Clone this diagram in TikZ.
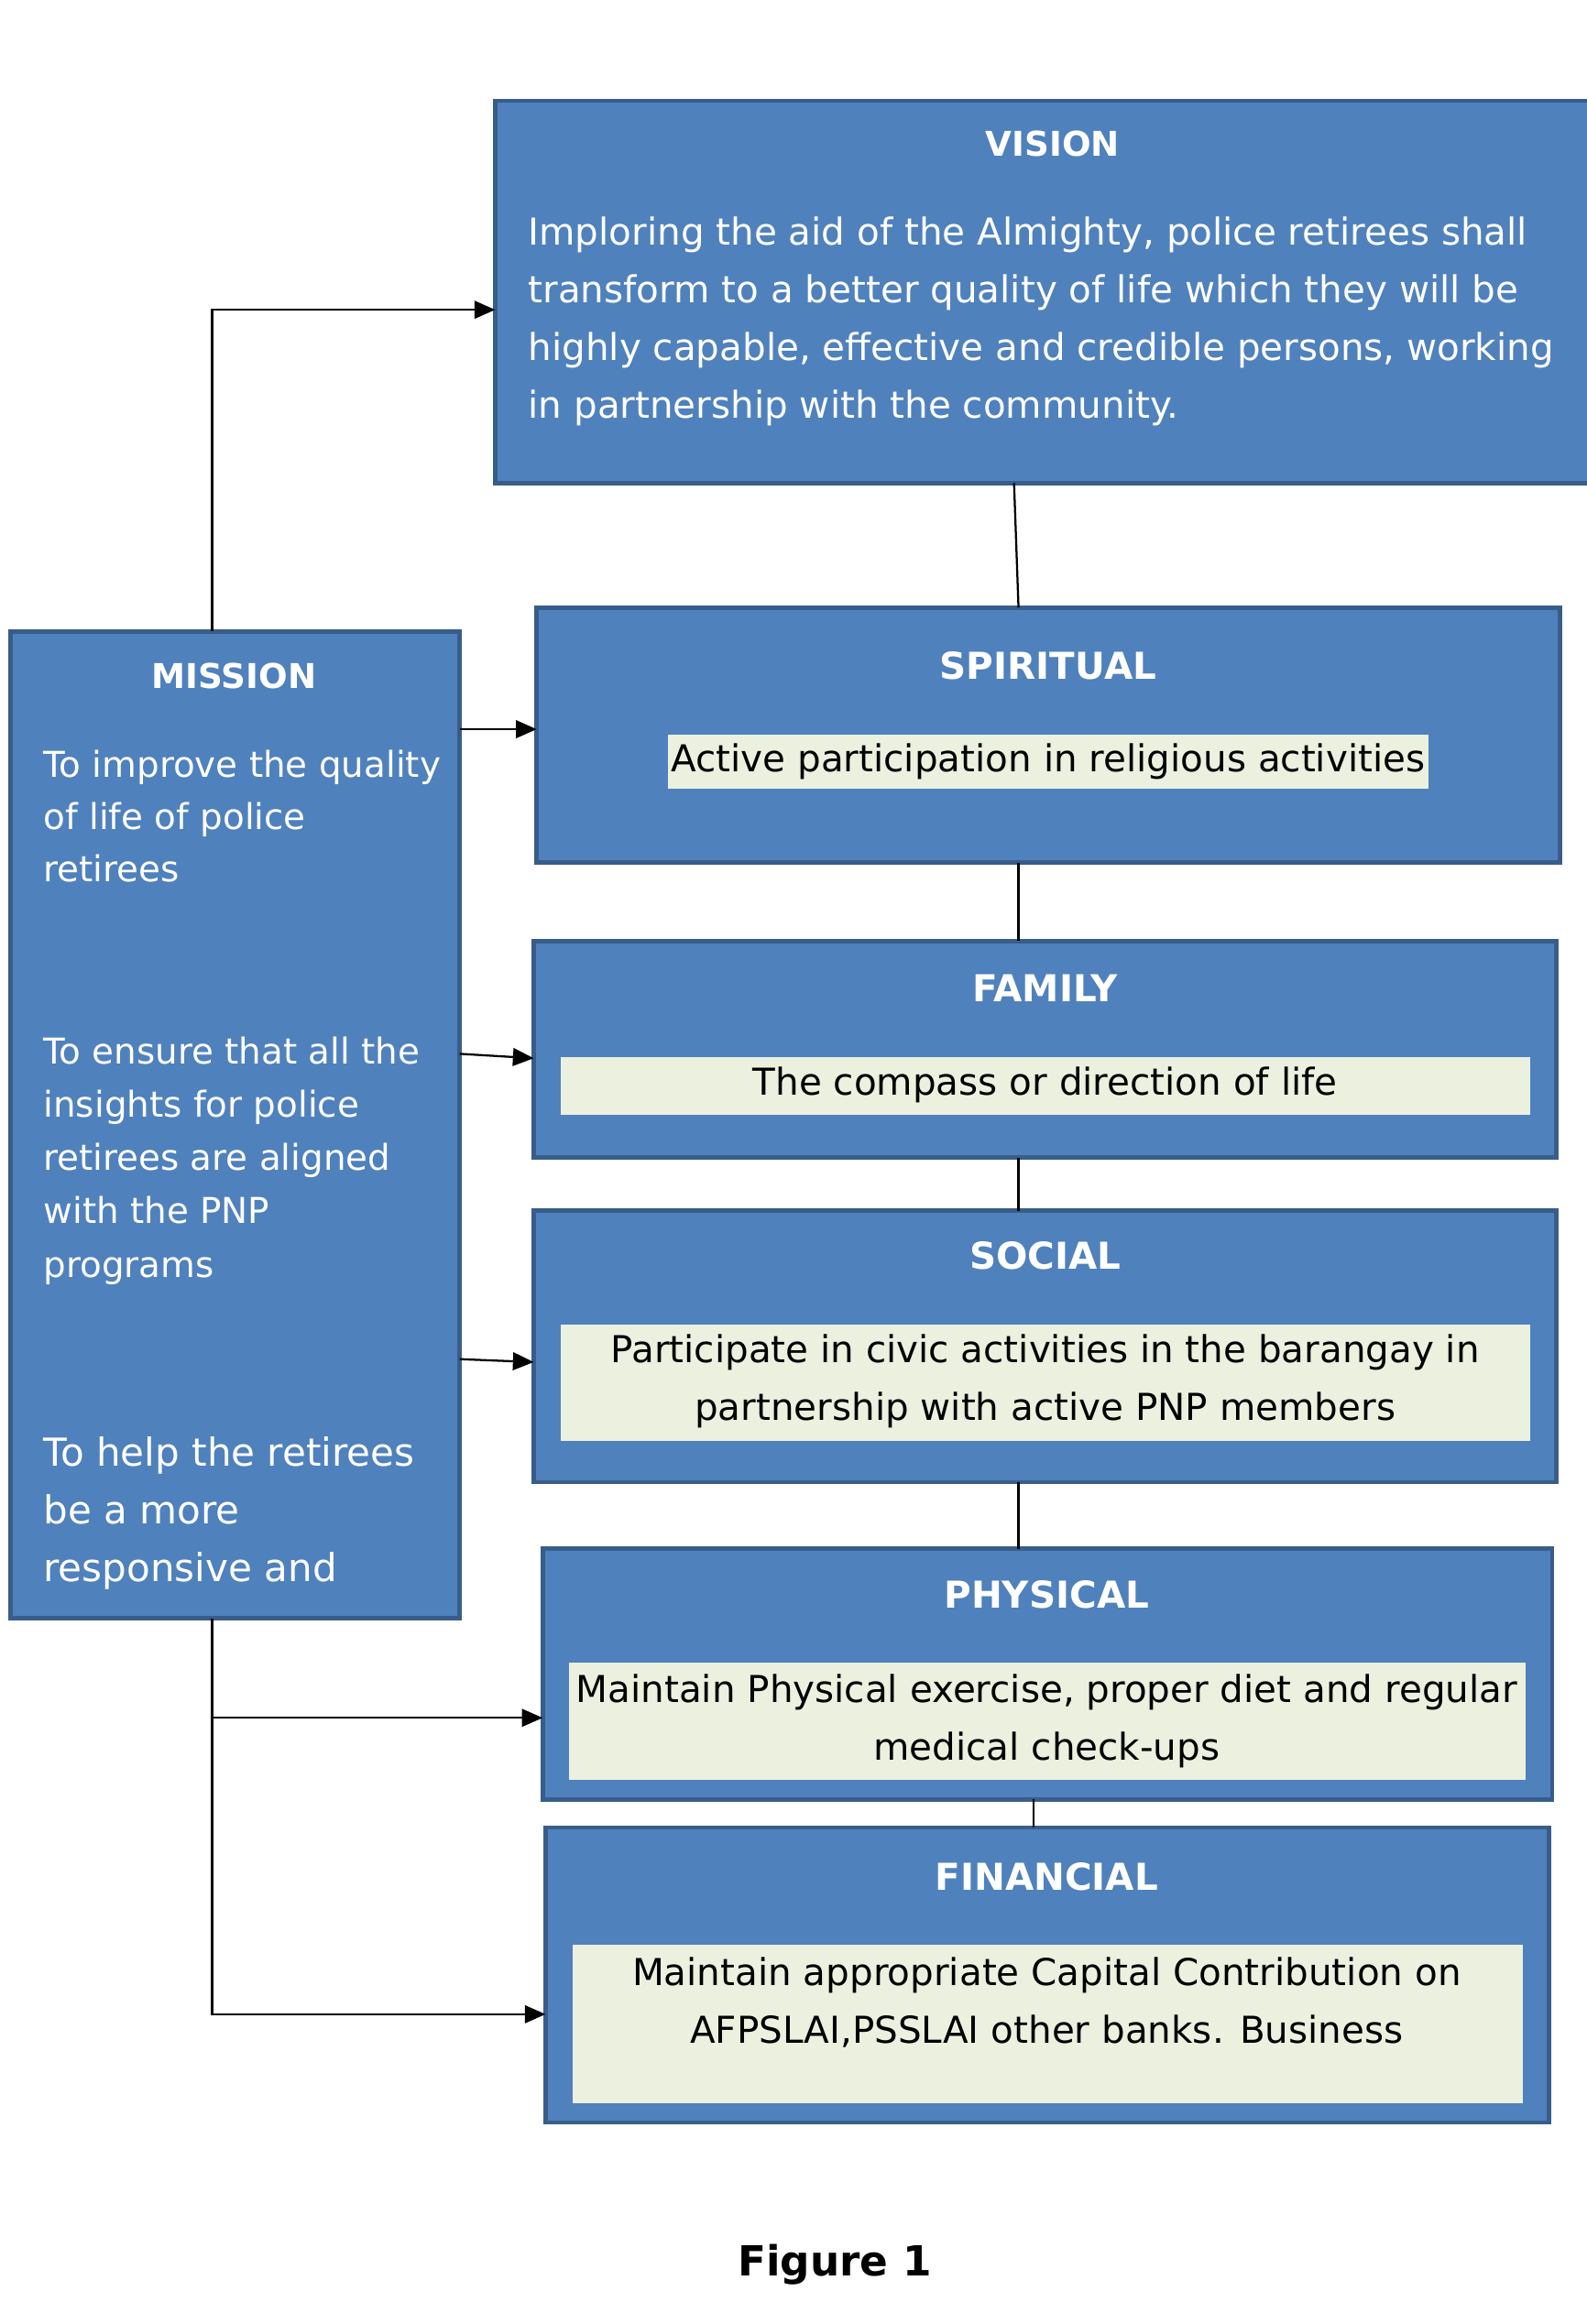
\documentclass[tikz,border=0pt]{standalone}
\usepackage{fontspec}
\setmainfont{DejaVu Sans}
\usetikzlibrary{arrows.meta}
\definecolor{boxblue}{HTML}{4F81BD}
\definecolor{boxedge}{HTML}{385D8A}
\definecolor{hl}{HTML}{EBF1DE}
\begin{document}
\begin{tikzpicture}[x=0.5pt,y=-0.5pt,
  box/.style={draw=boxedge,line width=1.5pt,fill=boxblue},
  hlbox/.style={fill=hl},
  head/.style={text=white,font=\fontsize{12.5}{15}\selectfont\bfseries},
  wtxt/.style={text=white,font=\fontsize{12.5}{19.5}\selectfont,align=left,anchor=north west,inner sep=0pt},
  btxt/.style={text=black,font=\fontsize{12.5}{19.5}\selectfont,align=center,inner sep=0pt},
  link/.style={line width=0.7pt},
  arr/.style={line width=0.7pt,-{Triangle[length=7pt,width=6pt]}}]
\useasboundingbox (0,0) rectangle (1070,1568);
\fill[white] (0,0) rectangle (1070,1568);
% boxes
\draw[box] (334,68) rectangle (1075,326);
\node[coordinate] (vb) at (684,326) {};
\node[coordinate] (vl) at (334,209) {};
\node[head,font=\fontsize{11.5}{14}\selectfont\bfseries] (vh) at (710,97) {VISION};
\node[wtxt] (vt) at (356,146) {Imploring the aid of the Almighty, police retirees shall\\transform to a better quality of life which they will be\\highly capable, effective and credible persons, working\\in partnership with the community.};

\draw[box] (7,426) rectangle (310,1092);
\node[head,font=\fontsize{11.5}{14}\selectfont\bfseries] (mh) at (158,456) {MISSION};
\node[wtxt,font=\fontsize{12}{17.5}\selectfont] (m1) at (29,506) {To improve the quality\\of life of police\\retirees};
\node[wtxt,font=\fontsize{12}{18}\selectfont] (m2) at (29,699) {To ensure that all the\\insights for police\\retirees are aligned\\with the PNP\\programs};
\node[wtxt,font=\fontsize{13}{19.5}\selectfont] (m3) at (29,969) {To help the retirees\\be a more\\responsive and};

\draw[box] (362,410) rectangle (1052,582);
\node[head] (sh) at (707,449) {SPIRITUAL};
\node[btxt,fill=hl,inner xsep=1pt,inner ysep=3pt] (st) at (707,514) {Active participation in religious activities};

\draw[box] (360,635) rectangle (1050,781);
\node[head] (fh) at (705,667) {FAMILY};
\fill[hl] (378,713) rectangle (1032,752);
\node[btxt] (ft) at (705,732) {The compass or direction of life};

\draw[box] (360,817) rectangle (1050,1000);
\node[head] (soh) at (705,847) {SOCIAL};
\fill[hl] (378,894) rectangle (1032,972);
\node[btxt] (sot) at (705,932) {Participate in civic activities in the barangay in\\partnership with active PNP members};

\draw[box] (366,1045) rectangle (1047,1214);
\node[head] (ph) at (706,1076) {PHYSICAL};
\fill[hl] (384,1122) rectangle (1029,1201);
\node[btxt] (pt) at (706,1161) {Maintain Physical exercise, proper diet and regular\\medical check-ups};

\draw[box] (368,1233) rectangle (1045,1432);
\node[head] (fih) at (706,1266) {FINANCIAL};
\fill[hl] (386,1312) rectangle (1027,1419);
\node[btxt] (fit) at (706,1351) {Maintain appropriate Capital Contribution on\\AFPSLAI,PSSLAI other banks. Business};

\node[font=\fontsize{14}{17}\selectfont\bfseries] (fig) at (563,1528) {Figure 1};

% coordinates for connectors
\coordinate (s1) at (687,410); \coordinate (s2) at (687,582);
\coordinate (f1) at (687,635); \coordinate (f2) at (687,781);
\coordinate (so1) at (687,817); \coordinate (so2) at (687,1000);
\coordinate (p1) at (687,1045); \coordinate (p2) at (697,1214);
\coordinate (fi1) at (697,1233);
\draw[link] (vb) -- (s1);
\draw[link] (s2) -- (f1);
\draw[link] (f2) -- (so1);
\draw[link] (so2) -- (p1);
\draw[link] (p2) -- (fi1);
\coordinate (mt) at (143,426); \coordinate (mb) at (143,1092);
\draw[arr] (mt) |- (vl);
\coordinate (ma) at (310,492); \coordinate (sa) at (362,492);
\coordinate (mb2) at (310,711); \coordinate (fa) at (360,714);
\coordinate (mc) at (310,917); \coordinate (soa) at (360,919);
\draw[arr] (ma) -- (sa);
\draw[arr] (mb2) -- (fa);
\draw[arr] (mc) -- (soa);
\coordinate (pa) at (366,1159); \coordinate (fia) at (368,1359);
\coordinate (br) at (143,1159);
\draw[arr] (mb) |- (fia);
\draw[arr] (br) -- (pa);
\end{tikzpicture}
\end{document}
